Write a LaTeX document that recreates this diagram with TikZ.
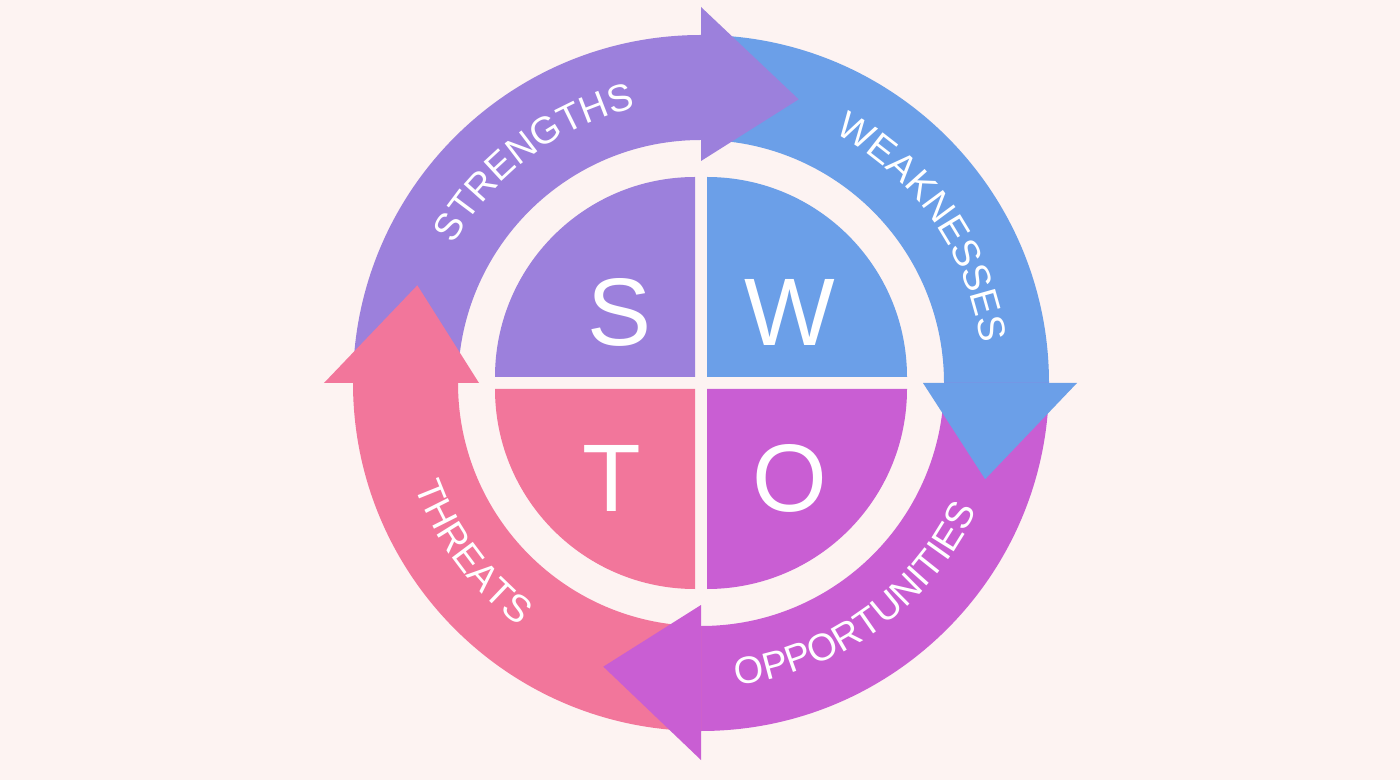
\documentclass[tikz,border=0pt]{standalone}
\usepackage{fontspec}
\setmainfont{Liberation Sans}
\usetikzlibrary{decorations.text}
\definecolor{bg}{HTML}{FDF3F2}
\definecolor{cS}{HTML}{9C80DC}
\definecolor{cW}{HTML}{6B9FE8}
\definecolor{cO}{HTML}{C95ED3}
\definecolor{cT}{HTML}{F2769B}
\tikzset{ringtext/.style={decorate,decoration={text along path,text align=center,
  text={|\fontsize{19}{19}\selectfont\color{white}|#1}}},
  letter/.style={text=white,font=\fontsize{48}{48}\selectfont}}
\begin{document}
\begin{tikzpicture}[x=0.5pt,y=0.5pt]
\fill[bg] (-701,-397) rectangle (699,383);
\useasboundingbox (-701,-397) rectangle (699,383);
% ring bodies
\fill[cS] (90:348) arc (90:180:348) -- (180:243) arc (180:90:243) -- cycle;
\fill[cW] (0:348) arc (0:90:348) -- (90:243) arc (90:0:243) -- cycle;
\fill[cO] (-90:348) arc (-90:0:348) -- (0:243) arc (0:-90:243) -- cycle;
\fill[cT] (180:348) arc (180:270:348) -- (270:243) arc (270:180:243) -- cycle;
% heads
\fill[cS] (90:376) -- (71:300) -- (90:222) -- cycle;
\fill[cW] (0:376) -- (-18.7:300) -- (0:222) -- cycle;
\fill[cO] (270:377) -- (251:300) -- (270:222) -- cycle;
\fill[cT] (180:377) -- (161:300) -- (180:222) -- cycle;
% quadrants
\fill[cS,shift={(-6,6)}] (0,0) -- (180:200) arc (180:90:200) -- cycle;
\fill[cW,shift={(6,6)}] (0,0) -- (90:200) arc (90:0:200) -- cycle;
\fill[cO,shift={(6,-6)}] (0,0) -- (0:200) arc (0:-90:200) -- cycle;
\fill[cT,shift={(-6,-6)}] (0,0) -- (270:200) arc (270:180:200) -- cycle;
\node[letter] (s) at (-81,71) {S};
\node[letter] (w) at (89,71) {W};
\node[letter] (t) at (-89,-95) {T};
\node[letter] (o) at (89,-95) {O};
% ring labels
\path[ringtext={STRENGTHS}] (165:283) arc (165:89:283);
\path[ringtext={WEAKNESSES}] (75:283) arc (75:-5:283);
\path[ringtext={OPPORTUNITIES}] (262:304) arc (262:350:304);
\path[ringtext={THREATS}] (186:304) arc (186:247:304);
\end{tikzpicture}
\end{document}
